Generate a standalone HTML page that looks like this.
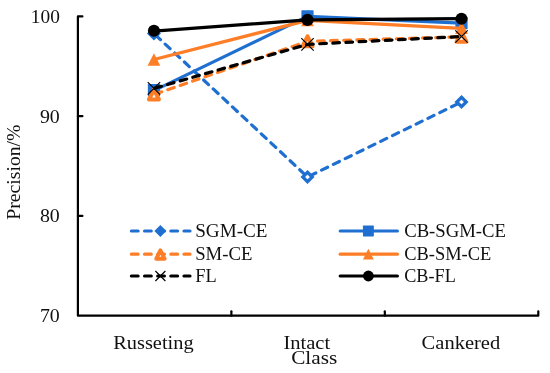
<!DOCTYPE html>
<html lang="en"><head><meta charset="utf-8"><title>Precision by class</title>
<style>
html,body{margin:0;padding:0;background:#fff;}
body{width:550px;height:373px;overflow:hidden;}
svg{display:block;}
text{font-family:"Liberation Serif","DejaVu Serif",serif;fill:#111;}
</style></head><body>
<svg width="550" height="373" viewBox="0 0 550 373">
<rect width="550" height="373" fill="#fff"/>
<g stroke="#000" stroke-width="2.2" fill="none" stroke-linecap="round" stroke-linejoin="round">
<path d="M82.4 16.4H77.9V315.7H538.3v-4.4"/>
<path d="M77.9 116.17h4.5"/>
<path d="M77.9 215.93h4.5"/>
<path d="M231.37 315.7v-4.4"/>
<path d="M384.83 315.7v-4.4"/>
</g>
<polyline points="153.95,33.60 307.50,177.00 461.50,102.00" fill="none" stroke="#1f6fd1" stroke-width="3.2" stroke-linecap="round" stroke-linejoin="round" stroke-dasharray="6.7 6.45" stroke-dashoffset="-2.2"/>
<path d="M153.95 28.85L158.70 33.60L153.95 38.35L149.20 33.60Z" fill="#fff" stroke="#1f6fd1" stroke-width="3.2" stroke-linejoin="miter"/>
<path d="M307.50 172.25L312.25 177.00L307.50 181.75L302.75 177.00Z" fill="#fff" stroke="#1f6fd1" stroke-width="3.2" stroke-linejoin="miter"/>
<path d="M461.50 97.25L466.25 102.00L461.50 106.75L456.75 102.00Z" fill="#fff" stroke="#1f6fd1" stroke-width="3.2" stroke-linejoin="miter"/>
<polyline points="153.95,90.60 307.50,16.40 461.50,23.05" fill="none" stroke="#1f6fd1" stroke-width="3.2" stroke-linecap="round" stroke-linejoin="round"/>
<rect x="147.85" y="83.90" width="12.2" height="12.2" rx="0.6" fill="#1f6fd1"/>
<rect x="301.40" y="10.30" width="12.2" height="12.2" rx="0.6" fill="#1f6fd1"/>
<rect x="455.40" y="16.95" width="12.2" height="12.2" rx="0.6" fill="#1f6fd1"/>
<polyline points="153.95,94.50 307.50,41.35 461.50,36.80" fill="none" stroke="#fd7e27" stroke-width="3.2" stroke-linecap="round" stroke-linejoin="round" stroke-dasharray="6.7 6.45" stroke-dashoffset="-1.5"/>
<path d="M153.95 89.50L158.95 99.50L148.95 99.50Z" fill="#fff" stroke="#fd7e27" stroke-width="4.0" stroke-linejoin="round"/>
<path d="M307.50 36.35L312.50 46.35L302.50 46.35Z" fill="#fff" stroke="#fd7e27" stroke-width="4.0" stroke-linejoin="round"/>
<path d="M461.50 31.80L466.50 41.80L456.50 41.80Z" fill="#fff" stroke="#fd7e27" stroke-width="4.0" stroke-linejoin="round"/>
<polyline points="153.95,59.50 307.50,20.40 461.50,28.30" fill="none" stroke="#fd7e27" stroke-width="3.2" stroke-linecap="round" stroke-linejoin="round"/>
<path d="M153.95 53.15L160.30 65.85L147.60 65.85Z" fill="#fd7e27"/>
<path d="M307.50 13.65L313.85 26.35L301.15 26.35Z" fill="#fd7e27"/>
<path d="M461.50 21.25L467.85 33.95L455.15 33.95Z" fill="#fd7e27"/>
<polyline points="153.95,88.40 307.50,44.35 461.50,36.50" fill="none" stroke="#000" stroke-width="3.2" stroke-linecap="round" stroke-linejoin="round" stroke-dasharray="6.7 6.45" stroke-dashoffset="-1.0"/>
<path d="M147.75 82.20L160.15 94.60M160.15 82.20L147.75 94.60" fill="none" stroke="#000" stroke-width="1.15"/>
<path d="M301.30 38.15L313.70 50.55M313.70 38.15L301.30 50.55" fill="none" stroke="#000" stroke-width="1.15"/>
<path d="M455.30 30.30L467.70 42.70M467.70 30.30L455.30 42.70" fill="none" stroke="#000" stroke-width="1.15"/>
<polyline points="153.95,31.10 307.50,19.90 461.50,18.70" fill="none" stroke="#000" stroke-width="3.2" stroke-linecap="round" stroke-linejoin="round"/>
<circle cx="153.95" cy="30.80" r="6.05" fill="#000"/>
<circle cx="307.50" cy="19.90" r="6.05" fill="#000"/>
<circle cx="461.50" cy="18.70" r="6.05" fill="#000"/>
<path d="M131.40 231.0H190.00" fill="none" stroke="#1f6fd1" stroke-width="3.2" stroke-linecap="round" stroke-dasharray="6.7 6.45"/>
<path d="M160.40 225.00L166.40 231.00L160.40 237.00L154.40 231.00Z" fill="#1f6fd1"/>
<text x="195.2" y="237.1" font-size="19" textLength="72.3" lengthAdjust="spacingAndGlyphs">SGM-CE</text>
<path d="M340.20 231.0H397.40" fill="none" stroke="#1f6fd1" stroke-width="3.2" stroke-linecap="round"/>
<rect x="362.95" y="225.55" width="10.9" height="10.9" rx="0.6" fill="#1f6fd1"/>
<text x="404.2" y="237.1" font-size="19" textLength="101.8" lengthAdjust="spacingAndGlyphs">CB-SGM-CE</text>
<path d="M131.40 254.2H190.00" fill="none" stroke="#fd7e27" stroke-width="3.2" stroke-linecap="round" stroke-dasharray="6.7 6.45"/>
<path d="M160.40 250.40L164.60 258.80L156.20 258.80Z" fill="#fff" stroke="#fd7e27" stroke-width="3.9" stroke-linejoin="round"/>
<text x="195.2" y="259.5" font-size="19" textLength="57.2" lengthAdjust="spacingAndGlyphs">SM-CE</text>
<path d="M340.20 254.2H397.40" fill="none" stroke="#fd7e27" stroke-width="3.2" stroke-linecap="round"/>
<path d="M368.40 248.80L373.80 259.60L363.00 259.60Z" fill="#fd7e27"/>
<text x="404.2" y="259.5" font-size="19" textLength="87.1" lengthAdjust="spacingAndGlyphs">CB-SM-CE</text>
<path d="M131.40 276.0H190.00" fill="none" stroke="#000" stroke-width="3.2" stroke-linecap="round" stroke-dasharray="6.7 6.45"/>
<path d="M155.40 271.00L165.40 281.00M165.40 271.00L155.40 281.00" fill="none" stroke="#000" stroke-width="1.15"/>
<text x="195.2" y="282.4" font-size="19" textLength="21.4" lengthAdjust="spacingAndGlyphs">FL</text>
<path d="M340.20 276.0H397.40" fill="none" stroke="#000" stroke-width="3.2" stroke-linecap="round"/>
<circle cx="368.40" cy="276.00" r="5.4" fill="#000"/>
<text x="404.2" y="282.4" font-size="19" textLength="51.6" lengthAdjust="spacingAndGlyphs">CB-FL</text>
<text x="30.8" y="22.7" font-size="18.6" textLength="29.0" lengthAdjust="spacingAndGlyphs">100</text>
<text x="39.9" y="122.5" font-size="18.6" textLength="19.9" lengthAdjust="spacingAndGlyphs">90</text>
<text x="39.9" y="222.2" font-size="18.6" textLength="19.9" lengthAdjust="spacingAndGlyphs">80</text>
<text x="39.9" y="322.0" font-size="18.6" textLength="19.9" lengthAdjust="spacingAndGlyphs">70</text>
<text x="113.2" y="348.6" font-size="19" textLength="80.4" lengthAdjust="spacingAndGlyphs">Russeting</text>
<text x="283.4" y="348.6" font-size="19" textLength="46.8" lengthAdjust="spacingAndGlyphs">Intact</text>
<text x="421.6" y="348.6" font-size="19" textLength="78.6" lengthAdjust="spacingAndGlyphs">Cankered</text>
<text x="291.2" y="364" font-size="19" textLength="46" lengthAdjust="spacingAndGlyphs">Class</text>
<text transform="translate(20.4 219.7) rotate(-90)" font-size="19" textLength="95.2" lengthAdjust="spacingAndGlyphs">Precision/%</text>
</svg></body></html>
